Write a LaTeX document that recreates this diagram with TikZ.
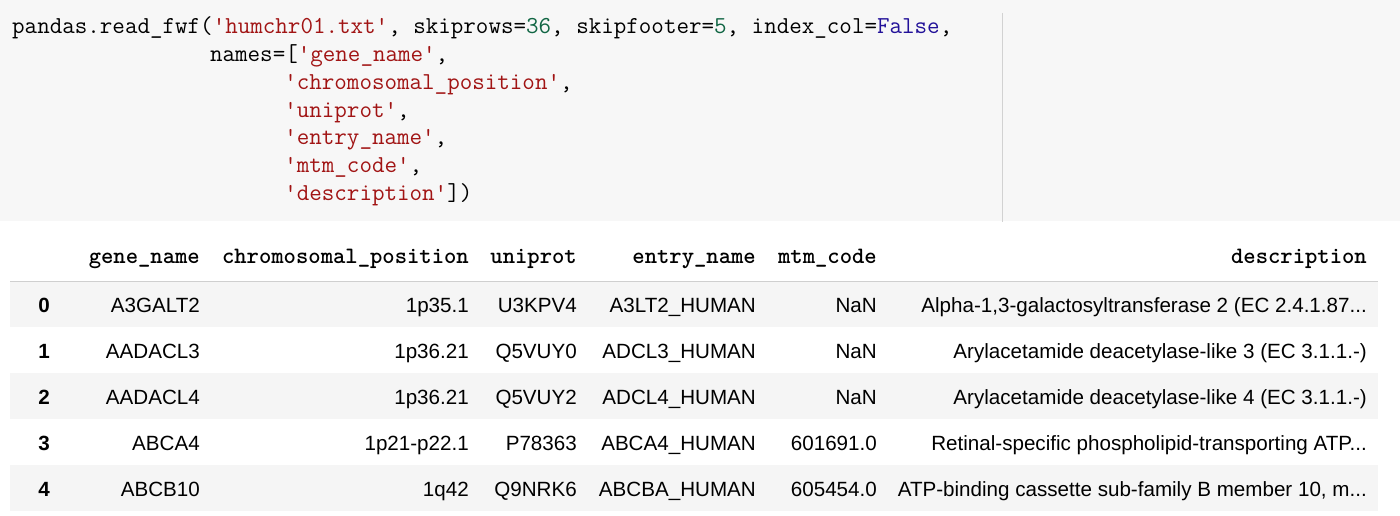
\documentclass[tikz,border=0pt]{standalone}
\usepackage{fontspec}
\newfontfamily\cellfont{Liberation Sans}
\definecolor{codebg}{HTML}{F7F7F7}
\definecolor{bandbg}{HTML}{F5F5F5}
\definecolor{sepgray}{HTML}{D2D2D2}
\definecolor{hdrline}{HTML}{CFCFCF}
\definecolor{cmstr}{HTML}{A11414}
\definecolor{cmnum}{HTML}{116644}
\definecolor{cmkw}{HTML}{221199}
\newcommand\q{\textquotesingle}
\newcommand\cstr[1]{\textcolor{cmstr}{#1}}
\newcommand\cnum[1]{\textcolor{cmnum}{#1}}
\newcommand\ckw[1]{\textcolor{cmkw}{#1}}
\tikzset{
  codeline/.style={anchor=base west,inner sep=0pt,font=\ttfamily\fontsize{24.34}{28}\selectfont,text=black},
  hdr/.style={anchor=base east,inner sep=0pt,font=\ttfamily\bfseries\fontsize{23.5}{28}\selectfont,text=black},
  cell/.style={anchor=base east,inner sep=0pt,font=\cellfont\fontsize{20.6}{24}\selectfont,text=black},
  idx/.style={anchor=base,inner sep=0pt,font=\cellfont\bfseries\fontsize{20.6}{24}\selectfont,text=black},
  band/.style={fill=bandbg,draw=none},
}
\begin{document}
\begin{tikzpicture}[x=1pt,y=-1pt]
\useasboundingbox (0,0) rectangle (1400,516);
% code cell
\fill[codebg] (0,0) rectangle (1400,221);
\coordinate (sepTop) at (1002.5,13);
\coordinate (sepBot) at (1002.5,222);
\draw[sepgray,line width=1.4pt] (sepTop) -- (sepBot);
\node[codeline] (c1) at (12,33.8) {pandas.read\_fwf(\cstr{\q humchr01.txt\q}, skiprows=\cnum{36}, skipfooter=\cnum{5}, index\_col=\ckw{False},};
\node[codeline] (c2) at (209.9,61.6) {names=[\cstr{\q gene\_name\q},};
\node[codeline] (c3) at (284.1,89.4) {\cstr{\q chromosomal\_position\q},};
\node[codeline] (c4) at (284.1,117.2) {\cstr{\q uniprot\q},};
\node[codeline] (c5) at (284.1,145.0) {\cstr{\q entry\_name\q},};
\node[codeline] (c6) at (284.1,172.8) {\cstr{\q mtm\_code\q},};
\node[codeline] (c7) at (284.1,200.6) {\cstr{\q description\q}])};
% table bands
\fill[band] (10,281) rectangle (1378,327);
\fill[band] (10,373) rectangle (1378,419);
\fill[band] (10,465) rectangle (1378,511);
\coordinate (hlL) at (10,281.5);
\coordinate (hlR) at (1378,281.5);
\draw[hdrline,line width=1pt] (hlL) -- (hlR);
% header
\node[hdr] (hGene) at (200,263.3) {gene\_name};
\node[hdr] (hChrom) at (469,263.3) {chromosomal\_position};
\node[hdr] (hUni) at (577,263.3) {uniprot};
\node[hdr] (hEntry) at (756,263.3) {entry\_name};
\node[hdr] (hMtm) at (877,263.3) {mtm\_code};
\node[hdr] (hDesc) at (1367,263.3) {description};
% rows
\foreach \i/\g/\c/\u/\e/\m/\d in {
  0/A3GALT2/1p35.1/U3KPV4/A3LT2\_HUMAN/NaN/{Alpha-1,3-galactosyltransferase 2 (EC 2.4.1.87...},
  1/AADACL3/1p36.21/Q5VUY0/ADCL3\_HUMAN/NaN/{Arylacetamide deacetylase-like 3 (EC 3.1.1.-)},
  2/AADACL4/1p36.21/Q5VUY2/ADCL4\_HUMAN/NaN/{Arylacetamide deacetylase-like 4 (EC 3.1.1.-)},
  3/ABCA4/1p21-p22.1/P78363/ABCA4\_HUMAN/601691.0/{Retinal-specific phospholipid-transporting ATP...},
  4/ABCB10/1q42/Q9NRK6/ABCBA\_HUMAN/605454.0/{ATP-binding cassette sub-family B member 10, m...}}
{
  \pgfmathsetmacro\yb{312.7+46*\i}
  \node[idx] (i\i) at (44,\yb) {\i};
  \node[cell] (g\i) at (200,\yb) {\g};
  \node[cell] (p\i) at (469,\yb) {\c};
  \node[cell] (u\i) at (577,\yb) {\u};
  \node[cell] (e\i) at (756,\yb) {\e};
  \node[cell] (m\i) at (877,\yb) {\m};
  \node[cell] (d\i) at (1367,\yb) {\d};
}
\end{tikzpicture}
\end{document}
